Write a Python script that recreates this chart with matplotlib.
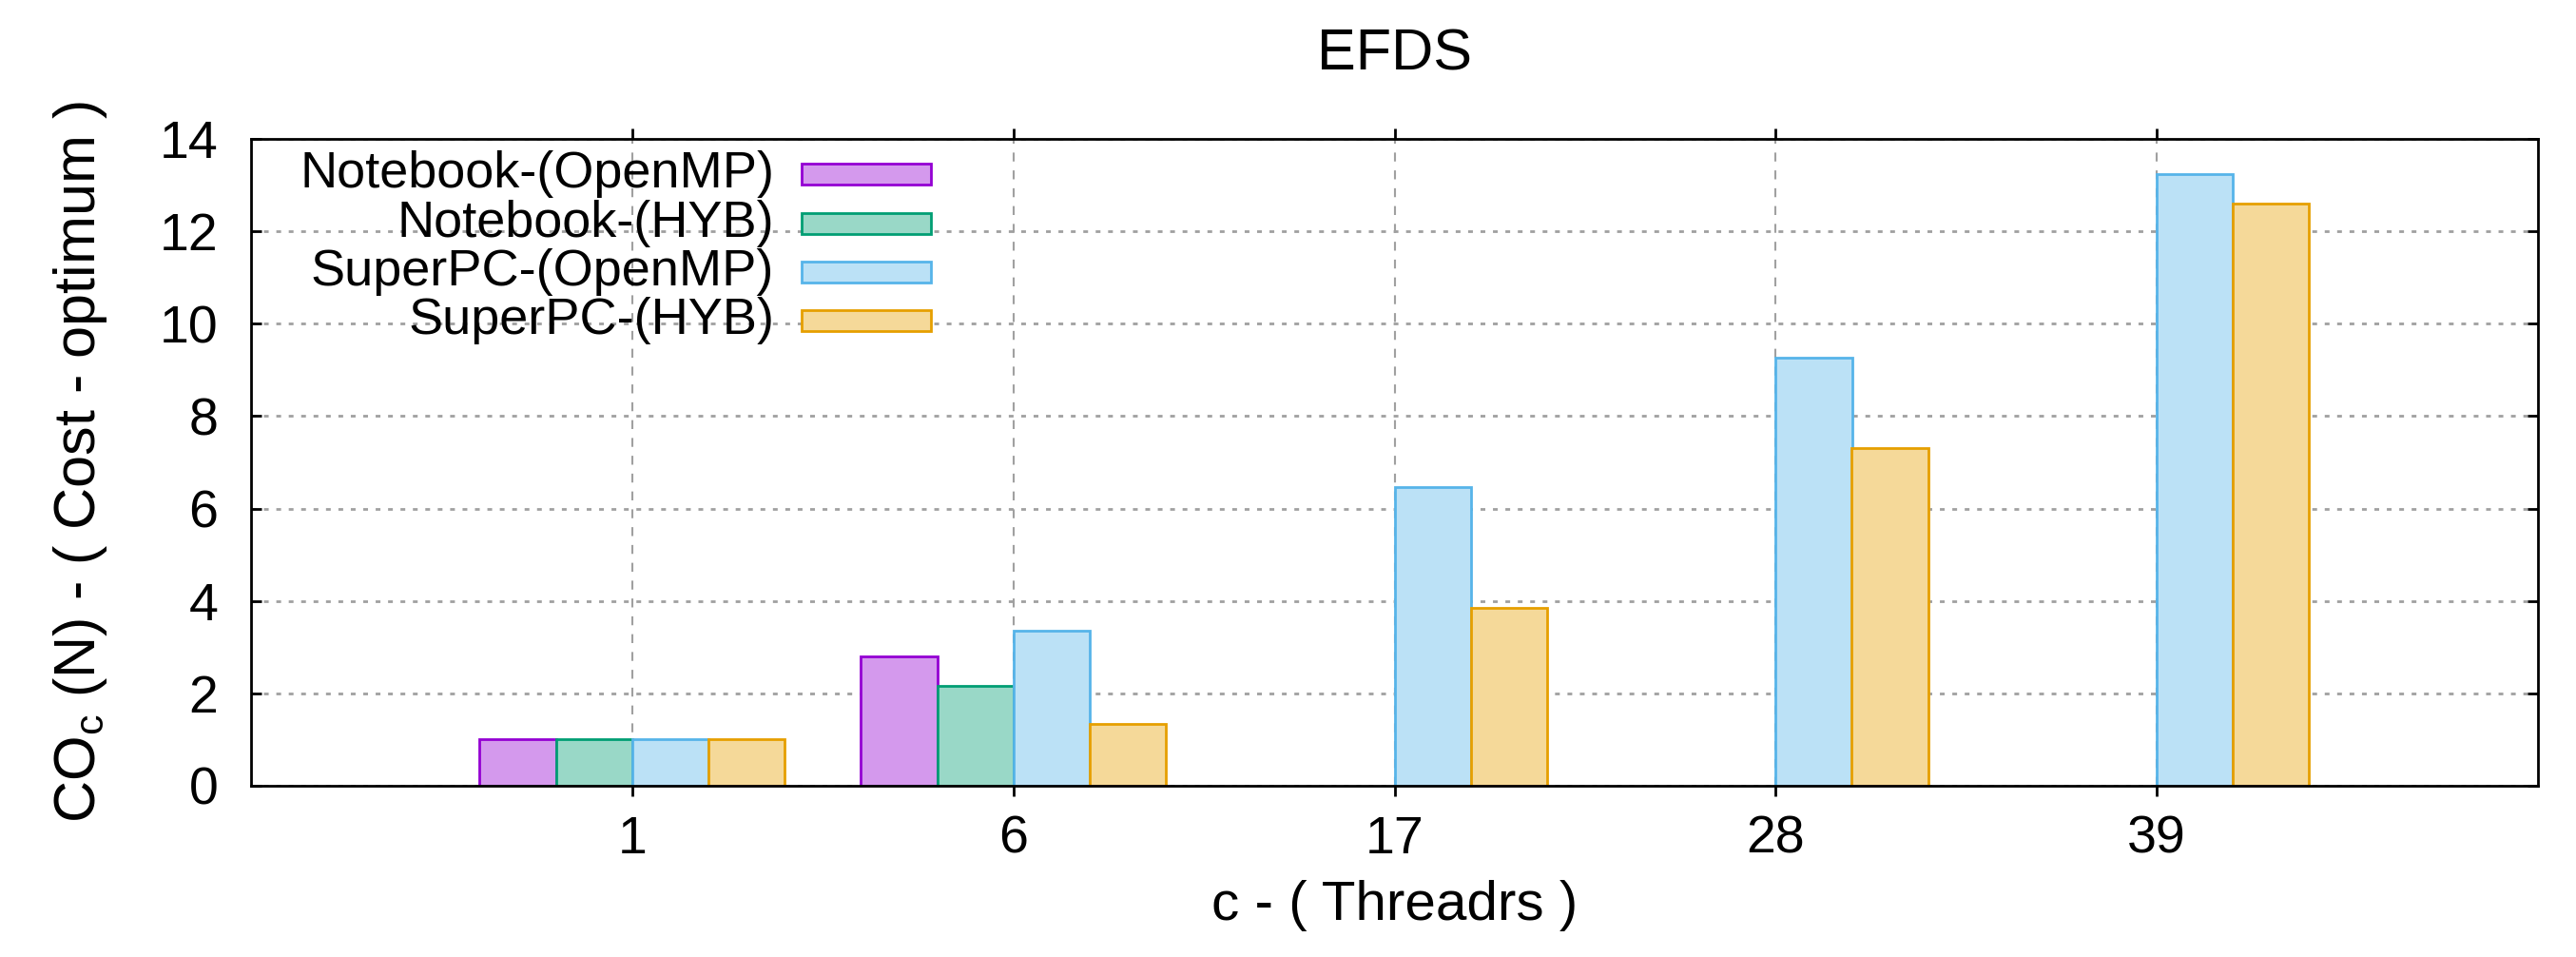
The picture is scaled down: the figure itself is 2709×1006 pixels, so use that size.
import numpy as np
import matplotlib.pyplot as plt
from matplotlib.patches import Rectangle

# data (nan = no bar drawn)
threads = ['1', '6', '17', '28', '39']
nb_openmp = [1.0, 2.81, np.nan, np.nan, np.nan]
nb_hyb = [1.0, 2.16, np.nan, np.nan, np.nan]
spc_openmp = [1.0, 3.36, 6.46, 9.26, 13.24]
spc_hyb = [1.0, 1.33, 3.85, 7.30, 12.61]

series = [nb_openmp, nb_hyb, spc_openmp, spc_hyb]
labels = ['Notebook-(OpenMP)', 'Notebook-(HYB)', 'SuperPC-(OpenMP)', 'SuperPC-(HYB)']
edges = ['#9400d3', '#009e73', '#56b4e9', '#e69f00']
fills = ['#d499ed', '#99d8c7', '#bbe1f6', '#f5d999']

plt.rcParams['font.family'] = ['Liberation Sans', 'DejaVu Sans']

fig = plt.figure(figsize=(27.09, 10.06), dpi=100)
# axes box: x 264..2669 px, y 146..826 px
ax = fig.add_axes([264 / 2709, 1 - 826 / 1006, 2405 / 2709, 680 / 1006])

x = np.arange(len(threads))
w = 0.2
for i, vals in enumerate(series):
    ax.bar(x + (i - 1.5) * w, np.array(vals, dtype=float), w, color=fills[i],
           edgecolor=edges[i], linewidth=2, zorder=3)

ax.set_xlim(-1, 5)
ax.set_ylim(0, 14)
ax.set_yticks(np.arange(0, 15, 2))
ax.set_xticks(x)
ax.set_xticklabels(threads)

ax.grid(axis='y', color='#a0a0a0', linestyle=(0, (1.8, 2.9)), linewidth=2, zorder=0)
ax.grid(axis='x', color='#a0a0a0', linestyle=(0, (4.5, 4.5)), linewidth=1.5, zorder=0)

ax.tick_params(axis='y', direction='in', length=8, width=2, right=True, labelsize=40, pad=25)
ax.tick_params(axis='x', direction='out', length=8, width=2, top=True, labelsize=40, pad=14)
for s in ax.spines.values():
    s.set_linewidth(2)
    s.set_zorder(5)

ax.set_title('EFDS', fontsize=44, y=(826 - 73) / 680, pad=0)
ax.set_xlabel('c - ( Threadrs )', fontsize=42)
ax.xaxis.set_label_coords(0.5, -0.145)
ax.set_ylabel('CO$_\\mathregular{c}$ (N) - ( Cost - optimum )', fontsize=44)
ax.yaxis.set_label_coords(-0.062, 0.5)

# key in the top left corner, text right aligned before the sample box
rows_y = [0.9456, 0.869, 0.794, 0.719]
for i in range(len(labels)):
    ax.text(0.2287, rows_y[i], labels[i], transform=ax.transAxes,
            ha='right', va='center', fontsize=39, zorder=6)
    ax.add_patch(Rectangle((0.2407, rows_y[i] - 0.0162), 0.0565, 0.0324,
                           transform=ax.transAxes, facecolor=fills[i],
                           edgecolor=edges[i], linewidth=2, zorder=6))

fig.savefig('out.png', dpi=100)
